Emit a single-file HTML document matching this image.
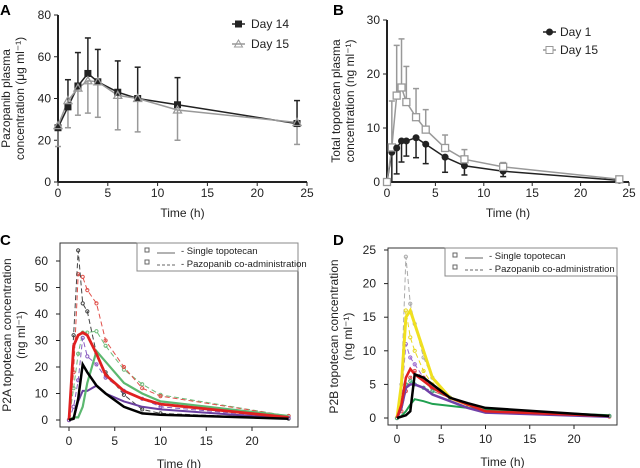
<!DOCTYPE html>
<html><head><meta charset="utf-8"><style>
body{margin:0;background:#fff;}
svg{display:block;font-family:"Liberation Sans",Arial,sans-serif;}
</style></head><body>
<svg id="fig" width="640" height="468" viewBox="0 0 640 468"></svg>
<script>
// Panel A data
const tA=[0,1,2,3,4,6,8,12,24];
const aDay14=[26,36,46,52,48,43,40,37,28];
const aDay14Up=[26,49,62,69,63.5,58,55,50,39];
const aDay15=[27,39,45,48.5,48,41.5,40,34.5,28.5];
const aDay15Lo=[17,26,32,33,31,25,24,20,18];
const ticksA=[0,20,40,60,80];
const xTicks25=[0,5,10,15,20,25];
// Panel B data
const tB=[0,0.5,1,1.5,2,3,4,6,8,12,24];
const bDay1=[0,5.5,6.3,7.6,7.6,8.2,7,4.6,3,2,0.3];
const bDay1Lo=[0,0,1.5,3.7,4.8,4.5,3.4,1.8,1.3,1,0];
const bDay15=[0,6.4,16,17.5,14.8,12,9.7,6.3,4.2,2.8,0.5];
const bDay15Up=[0,15,25.3,26.5,21.4,17.3,13.4,8.7,6,3.6,0.7];
const ticksB=[0,10,20,30];
// Panel C/D data
const tCD=[0,0.5,1,1.5,2,3,4,6,8,10,24];
const cBlackS=[0,0.5,8,21,18,13,10,5,2.5,2,0.5];
const cBlackD=[0,32,64,44,41,25,18,9.5,4,2.5,0.5];
const cRedS=[0,28,32,33,32,25,17,11,8,6,1];
const cRedD=[0,18,55,54,49,44,30,20,12,9,1.5];
const cGreenS=[0,1,1,5,14,26,22,14,10,7,1.5];
const cGreenD=[0,12,25,33,33,33.5,28,19,13.5,9.5,1.5];
const cPurpleS=[0,0.5,7,11,11,13,10,7,5,4,0.5];
const cPurpleD=[0,5,15,31,24,21,16,11,8,5,0.8];
const ticksC=[0,10,20,30,40,50,60];
const dGrayD=[0,5,24,17,14,9,6,3,2,1.2,0.3];
const dYellowS=[0,5,15,16,14,10,6,3,2,1,0.3];
const dYellowD=[0,3,16,12,10,7,5,3,2,1,0.3];
const dPurpleD=[0,3,11,9,8,6,4.5,3,2,1,0.3];
const dRedS=[0,2,6,7.3,6.5,5.5,4.5,3,2,1,0.3];
const dRedD=[0,1,4,6,7,6,4,3,2,1,0.2];
const dBlackS=[0,0.2,0.4,1,6.5,6,5,3,2.2,1.5,0.3];
const dPurpleS=[0,1.5,4.5,5,5,4.5,3.5,2.5,1.5,0.8,0.2];
const dGreenS=[0,0.3,1,2,2.8,2.5,2.1,1.8,1.5,1.2,0.4];
const dGreenD=[0,2,5,5.5,5,4.5,4,3,2,1,0.3];
const ticksD=[0,5,10,15,20,25];
const xTicks20=[0,5,10,15,20];

const svg=document.getElementById('fig');
const NS='http://www.w3.org/2000/svg';
function mk(tag,attrs,parent,name){const e=document.createElementNS(NS,tag);for(const k in attrs)e.setAttribute(k,attrs[k]);


(parent||svg).appendChild(e);return e;}
function txt(x,y,s,attrs,name){const e=mk('text',Object.assign({x:x,y:y,'font-size':11,fill:'#222','text-anchor':'middle'},attrs||{}),svg,name);e.textContent=s;return e;}
function scale(d0,d1,r0,r1){return v=>r0+(v-d0)/(d1-d0)*(r1-r0);}
function path(xs,ys,sx,sy){return xs.map((t,i)=>(i?'L':'M')+sx(t).toFixed(1)+','+sy(ys[i]).toFixed(1)).join('');}

function axes(sx,sy,xt,yt,x0,y0,x1,y1,box,ylab,panel,letter,lx){
  if(box){mk('rect',{x:x0,y:y1,width:x1-x0,height:y0-y1,fill:'none',stroke:'#333','stroke-width':1},svg,panel+'-frame');}
  else{mk('line',{x1:x0,y1:y0,x2:x0,y2:y1,stroke:'#222','stroke-width':2},svg,panel+'-y-axis');
       mk('line',{x1:x0,y1:y0,x2:x1,y2:y0,stroke:'#222','stroke-width':2},svg,panel+'-x-axis');}
  xt.forEach(v=>{const X=sx(v);mk('line',{x1:X,y1:y0,x2:X,y2:y0+4,stroke:'#222'},svg,panel+'-x-tick');
    txt(X,y0+(box?18:15),String(v),{'font-size':12},panel+'-x-tick-label');});
  yt.forEach(v=>{const Y=sy(v);mk('line',{x1:x0,y1:Y,x2:x0-4,y2:Y,stroke:'#222'},svg,panel+'-y-tick');
    txt(x0-(box?12:7),Y+4,String(v),{'font-size':12,'text-anchor':'end'},panel+'-y-tick-label');});
  txt((x0+x1)/2,y0+(box?41:35),'Time (h)',{'font-size':12},panel+'-x-axis-title');
  const cy=(y0+y1)/2;
  ylab.forEach((s,i)=>{const e=txt(lx+i*14,cy,s,{'font-size':12,transform:'rotate(-90 '+(lx+i*14)+' '+cy+')'},panel+'-y-axis-title');});
  txt(letter[1],letter[2],letter[0],{'font-size':15,'font-weight':'bold','text-anchor':'start',fill:'#000'},panel+'-letter');
}

// Panel A
{const sx=scale(0,25,58,307),sy=scale(0,80,182,15);
axes(sx,sy,xTicks25,ticksA,58,182,307,15,false,['Pazopanib plasma','concentration (μg ml⁻¹)'],'panel-a',['A',0,15],10);
tA.forEach((t,i)=>{mk('line',{x1:sx(t),y1:sy(aDay15[i]),x2:sx(t),y2:sy(aDay15Lo[i]),stroke:'#999','stroke-width':1.5},svg,'day15-error-bar');
 mk('line',{x1:sx(t)-3,y1:sy(aDay15Lo[i]),x2:sx(t)+3,y2:sy(aDay15Lo[i]),stroke:'#999','stroke-width':1.5},svg,'day15-error-cap');
 mk('line',{x1:sx(t),y1:sy(aDay14[i]),x2:sx(t),y2:sy(aDay14Up[i]),stroke:'#222','stroke-width':1.5},svg,'day14-error-bar');
 mk('line',{x1:sx(t)-3,y1:sy(aDay14Up[i]),x2:sx(t)+3,y2:sy(aDay14Up[i]),stroke:'#222','stroke-width':1.5},svg,'day14-error-cap');});
mk('path',{d:path(tA,aDay14,sx,sy),fill:'none',stroke:'#222','stroke-width':1.5},svg,'day14-line');
mk('path',{d:path(tA,aDay15,sx,sy),fill:'none',stroke:'#999','stroke-width':1.5},svg,'day15-line');
tA.forEach((t,i)=>{mk('rect',{x:sx(t)-3.5,y:sy(aDay14[i])-3.5,width:7,height:7,fill:'#222'},svg,'day14-point');
 mk('polygon',{points:[[0,-4],[4,3],[-4,3]].map(p=>(sx(t)+p[0])+','+(sy(aDay15[i])+p[1])).join(' '),fill:'none',stroke:'#999','stroke-width':1.3},svg,'day15-point');});
mk('line',{x1:232,y1:24,x2:245,y2:24,stroke:'#222','stroke-width':1.5},svg,'legend-day14-line');
mk('rect',{x:235,y:20.5,width:7,height:7,fill:'#222'},svg,'legend-day14-marker');
txt(251,28,'Day 14',{'font-size':12,'text-anchor':'start'},'legend-day14');
mk('line',{x1:232,y1:44,x2:245,y2:44,stroke:'#999','stroke-width':1.5},svg,'legend-day15-line');
mk('polygon',{points:'238.5,40 242.5,47 234.5,47',fill:'none',stroke:'#999'},svg,'legend-day15-marker');
txt(251,48,'Day 15',{'font-size':12,'text-anchor':'start'},'legend-day15');}

// Panel B
{const sx=scale(0,25,387,629),sy=scale(0,30,182,20);
axes(sx,sy,xTicks25,ticksB,387,182,629,20,false,['Total topotecan plasma','concentration (ng ml⁻¹)'],'panel-b',['B',333,15],340);
tB.forEach((t,i)=>{mk('line',{x1:sx(t),y1:sy(bDay15[i]),x2:sx(t),y2:sy(bDay15Up[i]),stroke:'#999','stroke-width':1.5},svg,'b-day15-error-bar');
 mk('line',{x1:sx(t)-3,y1:sy(bDay15Up[i]),x2:sx(t)+3,y2:sy(bDay15Up[i]),stroke:'#999','stroke-width':1.5},svg,'b-day15-error-cap');
 mk('line',{x1:sx(t),y1:sy(bDay1[i]),x2:sx(t),y2:sy(bDay1Lo[i]),stroke:'#222','stroke-width':1.5},svg,'b-day1-error-bar');
 mk('line',{x1:sx(t)-3,y1:sy(bDay1Lo[i]),x2:sx(t)+3,y2:sy(bDay1Lo[i]),stroke:'#222','stroke-width':1.5},svg,'b-day1-error-cap');});
mk('path',{d:path(tB,bDay1,sx,sy),fill:'none',stroke:'#222','stroke-width':1.5},svg,'b-day1-line');
mk('path',{d:path(tB,bDay15,sx,sy),fill:'none',stroke:'#999','stroke-width':1.5},svg,'b-day15-line');
tB.forEach((t,i)=>{mk('circle',{cx:sx(t),cy:sy(bDay1[i]),r:3.5,fill:'#222'},svg,'b-day1-point');
 mk('rect',{x:sx(t)-3.5,y:sy(bDay15[i])-3.5,width:7,height:7,fill:'#fff',stroke:'#999','stroke-width':1.3},svg,'b-day15-point');});
mk('line',{x1:543,y1:32,x2:556,y2:32,stroke:'#222','stroke-width':1.5},svg,'legend-day1-line');
mk('circle',{cx:549.5,cy:32,r:3.5,fill:'#222'},svg,'legend-day1-marker');
txt(560,36,'Day 1',{'font-size':12,'text-anchor':'start'},'legend-day1');
mk('line',{x1:543,y1:50,x2:556,y2:50,stroke:'#999','stroke-width':1.5},svg,'legend-b-day15-line');
mk('rect',{x:546,y:46.5,width:7,height:7,fill:'#fff',stroke:'#999'},svg,'legend-b-day15-marker');
txt(560,54,'Day 15',{'font-size':12,'text-anchor':'start'},'legend-b-day15');}

function series(sx,sy,ys,color,dashed,w,name){
  mk('path',{d:path(tCD,ys,sx,sy),fill:'none',stroke:color,'stroke-width':dashed?1:w,'stroke-dasharray':dashed?'5,3':'none'},svg,name+'-line');
  if(dashed)tCD.forEach((t,i)=>mk('circle',{cx:sx(t),cy:sy(ys[i]),r:1.6,fill:'none',stroke:color,'stroke-width':1},svg,name+'-point'));
}
function legendCD(x,y,w,panel){
  mk('rect',{x:x,y:y,width:w,height:28,fill:'#fff',stroke:'#888'},svg,panel+'-legend-box');
  mk('rect',{x:x+8,y:y+5,width:4,height:4,fill:'none',stroke:'#666'},svg,panel+'-legend-marker');
  mk('line',{x1:x+20,y1:y+10,x2:x+38,y2:y+10,stroke:'#666'},svg,panel+'-legend-solid');
  txt(x+44,y+11,'- Single topotecan',{'font-size':9.5,'text-anchor':'start'},panel+'-legend-single');
  mk('rect',{x:x+8,y:y+17,width:4,height:4,fill:'none',stroke:'#666'},svg,panel+'-legend-marker2');
  mk('line',{x1:x+20,y1:y+22,x2:x+38,y2:y+22,stroke:'#666','stroke-dasharray':'3,2'},svg,panel+'-legend-dashed');
  txt(x+44,y+24,'- Pazopanib co-administration',{'font-size':9.5,'text-anchor':'start'},panel+'-legend-coadmin');
}
// Panel C
{const sx=scale(0,20,69,252),sy=scale(0,60,420,261);
axes(sx,sy,xTicks20,ticksC,60,427,298,243,true,['P2A topotecan concentration','(ng ml⁻¹)'],'panel-c',['C',0,245],11);
series(sx,sy,cGreenD,'#6dbb7a',true,1,'c-green-coadmin');
series(sx,sy,cRedD,'#e0504a',true,1,'c-red-coadmin');
series(sx,sy,cBlackD,'#444',true,1,'c-black-coadmin');
series(sx,sy,cPurpleD,'#8a5bc0',true,1,'c-purple-coadmin');
series(sx,sy,cPurpleS,'#6a3fa0',false,2,'c-purple-single');
series(sx,sy,cGreenS,'#5cb870',false,2.2,'c-green-single');
series(sx,sy,cRedS,'#e02020',false,2.8,'c-red-single');
series(sx,sy,cBlackS,'#000',false,2.5,'c-black-single');
legendCD(137,243,161,'panel-c');}
// Panel D
{const sx=scale(0,20,397,574),sy=scale(0,25,418,250);
axes(sx,sy,xTicks20,ticksD,388,425,617,248,true,['P2B topotecan concentration','(ng ml⁻¹)'],'panel-d',['D',333,245],338);
series(sx,sy,dGrayD,'#aaa',true,1,'d-gray-coadmin');
series(sx,sy,dYellowD,'#e8d820',true,1,'d-yellow-coadmin');
series(sx,sy,dPurpleD,'#9b6ad0',true,1,'d-purple-coadmin');
series(sx,sy,dRedD,'#e05050',true,1,'d-red-coadmin');
series(sx,sy,dGreenD,'#40b080',true,1,'d-green-coadmin');
series(sx,sy,dYellowS,'#f0e020',false,3,'d-yellow-single');
series(sx,sy,dGreenS,'#20a050',false,2,'d-green-single');
series(sx,sy,dPurpleS,'#7040a8',false,2.5,'d-purple-single');
series(sx,sy,dRedS,'#e02020',false,2.5,'d-red-single');
series(sx,sy,dBlackS,'#000',false,2.5,'d-black-single');
legendCD(445,248,172,'panel-d');}
</script>
</body></html>
